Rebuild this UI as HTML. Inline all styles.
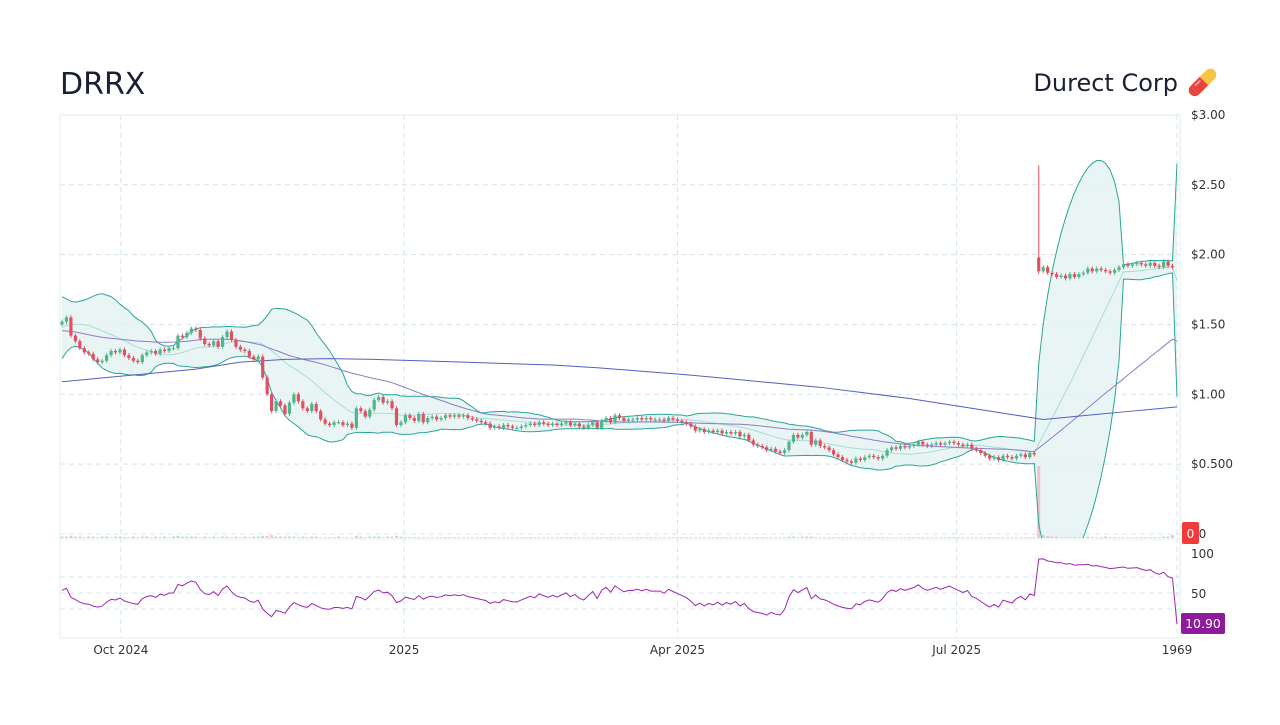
<!DOCTYPE html>
<html><head><meta charset="utf-8"><title>DRRX</title>
<style>
html,body{margin:0;padding:0;background:#fff;}
body{width:1280px;height:720px;overflow:hidden;font-family:"Liberation Sans","DejaVu Sans",sans-serif;}
svg text{font-family:"DejaVu Sans","Liberation Sans",sans-serif;}
</style></head>
<body>
<svg id="chart" width="1280" height="720" viewBox="0 0 1280 720" xmlns="http://www.w3.org/2000/svg">
  <text x="60" y="94" font-size="30" fill="#1c2033">DRRX</text>
  <text x="1178" y="91" font-size="24" fill="#1c2033" text-anchor="end">Durect Corp</text>
  <g transform="translate(1204,81) rotate(-45)">
    <rect x="-13" y="-6" width="13" height="12" fill="#e8423c"/>
    <path d="M-13,-6 A6,6 0 0 0 -13,6 Z" fill="#e8423c"/>
    <rect x="0" y="-6" width="9" height="12" fill="#f6c343"/>
    <path d="M9,-6 A6,6 0 0 1 9,6 Z" fill="#f6c343"/>
    <rect x="-10" y="-4" width="8" height="2" rx="1" fill="#ff9a94"/>
  </g>
  <g id="grid"></g>
  <defs><clipPath id="pclip"><rect x="60" y="115" width="1120" height="423"/></clipPath>
  <clipPath id="rclip"><rect x="60" y="540" width="1120" height="98"/></clipPath></defs>
  <g id="price" clip-path="url(#pclip)"></g>
  <g id="rsi" clip-path="url(#rclip)"></g>
  <g id="axes"></g>
</svg>
<script>
const warmup=[1.62,1.65,1.60,1.58,1.63,1.66,1.61,1.57,1.55,1.52,1.50,1.47,1.45,1.48,1.44,1.40,1.42,1.38,1.35,1.39,1.42,1.40,1.37,1.33,1.30,1.28,1.32,1.35,1.30,1.27,1.25,1.22,1.28,1.33,1.38,1.35,1.42,1.48,1.45,1.52,1.57,1.55,1.60,1.63,1.58,1.55,1.60,1.52,1.48,1.50];
const closes=[1.52,1.55,1.42,1.38,1.33,1.30,1.29,1.25,1.23,1.24,
1.28,1.31,1.30,1.32,1.28,1.26,1.24,1.23,1.28,1.30,
1.31,1.29,1.32,1.31,1.33,1.33,1.42,1.41,1.44,1.47,
1.46,1.40,1.36,1.35,1.38,1.34,1.41,1.45,1.39,1.34,
1.32,1.31,1.27,1.25,1.27,1.12,1.00,0.88,0.95,0.92,
0.86,0.94,1.00,0.95,0.90,0.88,0.93,0.88,0.82,0.79,
0.78,0.80,0.80,0.78,0.79,0.76,0.90,0.88,0.84,0.89,
0.96,0.98,0.94,0.95,0.90,0.78,0.80,0.85,0.83,0.81,
0.86,0.80,0.83,0.84,0.82,0.83,0.85,0.84,0.85,0.84,
0.85,0.83,0.82,0.81,0.80,0.79,0.76,0.77,0.76,0.78,
0.77,0.76,0.76,0.77,0.78,0.79,0.78,0.80,0.79,0.78,
0.79,0.78,0.79,0.80,0.78,0.79,0.77,0.76,0.78,0.80,
0.76,0.81,0.83,0.80,0.85,0.83,0.81,0.82,0.82,0.83,
0.82,0.83,0.82,0.82,0.82,0.81,0.83,0.82,0.81,0.80,
0.79,0.77,0.74,0.75,0.73,0.74,0.73,0.74,0.72,0.73,
0.72,0.73,0.70,0.71,0.67,0.64,0.63,0.62,0.60,0.61,
0.59,0.58,0.60,0.66,0.71,0.69,0.71,0.73,0.64,0.67,
0.63,0.62,0.60,0.57,0.55,0.53,0.52,0.51,0.54,0.53,
0.55,0.56,0.55,0.54,0.56,0.60,0.62,0.61,0.63,0.62,
0.63,0.64,0.66,0.64,0.63,0.64,0.65,0.64,0.65,0.66,
0.65,0.64,0.63,0.64,0.61,0.60,0.58,0.56,0.54,0.55,
0.53,0.56,0.55,0.54,0.56,0.57,0.55,0.58,0.57,1.88,
1.91,1.87,1.86,1.84,1.85,1.83,1.86,1.84,1.86,1.87,
1.90,1.88,1.90,1.89,1.88,1.87,1.89,1.91,1.93,1.92,
1.93,1.94,1.93,1.92,1.94,1.92,1.91,1.95,1.92,1.91,
0];
const specialBars=[{i:219,open:1.98,high:2.64,low:1.86}];
const volumes=[2,2,3,2,2,1,2,2,1,2,2,1,2,2,1,1,2,1,2,2,1,2,1,2,1,2,3,2,2,2,2,1,2,1,2,1,2,2,1,2,
1,2,1,2,2,3,3,4,2,2,2,2,2,1,2,1,2,2,1,1,1,1,2,1,1,1,3,2,1,2,2,2,1,2,2,3,2,1,1,1,
1,1,1,1,1,1,1,1,1,1,1,1,1,1,1,1,1,1,1,1,1,1,1,1,1,1,1,1,1,1,1,1,1,1,1,1,1,1,1,1,
1,1,1,1,1,1,1,1,1,1,1,1,1,1,1,1,1,1,1,1,1,1,1,1,1,1,1,1,1,1,1,1,1,1,1,1,1,1,1,1,
1,1,1,2,2,1,2,2,2,1,1,1,1,1,1,1,1,1,1,1,1,1,1,1,1,1,1,1,1,1,1,1,1,1,1,1,1,1,1,1,
1,1,1,1,1,1,1,1,1,1,1,1,1,1,1,1,1,1,1,100,4,3,2,2,1,1,1,1,1,1,2,1,1,1,2,1,1,1,1,1,
1,1,1,1,1,1,1,2,2,4,0];
const sma200Idx=[0,10,20,30,40,50,60,70,80,90,100,110,120,130,140,150,160,170,180,190,200,210,220,230,240,250];
const sma200Val=[1.09,1.12,1.15,1.18,1.23,1.25,1.255,1.25,1.24,1.23,1.22,1.21,1.19,1.165,1.14,1.11,1.08,1.05,1.01,0.97,0.92,0.87,0.82,0.85,0.88,0.91];
const priceTicks=[3.00,2.50,2.00,1.50,1.00,0.5,0];
const priceTickLabels=["$3.00","$2.50","$2.00","$1.50","$1.00","$0.500","$0"];
const rsiTicks=[100,50];
const dateTickIdx=[13.2,76.7,138,200.6,250];
const dateTickLabels=["Oct 2024","2025","Apr 2025","Jul 2025","1969"];

const NS="http://www.w3.org/2000/svg";
const X=i=>62+i*4.46;
const Y=p=>534-p*139.7;
const RY=v=>633-v*0.8;
function mk(tag,attrs,parent){const e=document.createElementNS(NS,tag);for(const k in attrs)e.setAttribute(k,attrs[k]);parent.appendChild(e);return e;}
const grid=document.getElementById('grid'),price=document.getElementById('price'),rsiG=document.getElementById('rsi'),axes=document.getElementById('axes');

priceTicks.forEach(p=>{const l=mk('line',{x1:60,x2:1180,y1:Y(p),y2:Y(p),stroke:'#d3e4ea','stroke-dasharray':'5,4','stroke-width':1},grid);

});
[70,50,30].forEach(v=>{const l=mk('line',{x1:60,x2:1180,y1:RY(v),y2:RY(v),stroke:'#cfe9f3','stroke-dasharray':'5,4','stroke-width':1},grid);

});
dateTickIdx.forEach(i=>{const l=mk('line',{x1:X(i),x2:X(i),y1:115,y2:638,stroke:'#d3e4ea','stroke-dasharray':'5,4','stroke-width':1},grid);

});

const all=warmup.concat(closes);const W=warmup.length;
function sma(n,k){let s=0,c=0;for(let j=Math.max(0,k-n+1);j<=k;j++){s+=all[j];c++;}return s/c;}
function sd(n,k,m){let s=0,c=0;for(let j=Math.max(0,k-n+1);j<=k;j++){s+=(all[j]-m)**2;c++;}return Math.sqrt(s/c);}
const up=[],lo=[],mid=[],s50=[];
for(let i=0;i<closes.length;i++){const k=i+W;const m=sma(20,k),d=sd(20,k,m);mid.push(m);up.push(m+2*d);lo.push(m-2*d);s50.push(sma(50,k));}
const pts=a=>a.map((v,i)=>X(i).toFixed(1)+','+Y(v).toFixed(1));
function openOf(i){let o=i>0?closes[i-1]:1.50;specialBars.forEach(s=>{if(s.i===i)o=s.open;});return o;}
const band=mk('polygon',{points:pts(up).concat(pts(lo).reverse()).join(' '),fill:'#e4f3f1',opacity:0.8},price);


volumes.forEach((v,i)=>{if(v<=0)return;const c=closes[i],o=openOf(i);const h=v*0.72;
const r=mk('rect',{x:X(i)-1.5,y:538-h,width:3,height:h,fill:(c>=o?'#a9dcc8':'#f0b8bf'),opacity:0.85},price);

});
const lineDefs=[[up,'#2aa596',1,'bollinger-upper'],[lo,'#2aa596',1,'bollinger-lower'],[mid,'#a6ddd5',1,'bollinger-middle'],[s50,'#8e7cc9',1,'sma-50']];
lineDefs.forEach(d=>{const l=mk('polyline',{points:pts(d[0]).join(' '),fill:'none',stroke:d[1],'stroke-width':d[2]},price);

});
const s200=mk('polyline',{points:sma200Idx.map((i,k)=>X(i)+','+Y(sma200Val[k])).join(' '),fill:'none',stroke:'#5361bd','stroke-width':1},price);


closes.forEach((c,i)=>{if(c<=0)return;let o=openOf(i);let hi=Math.max(o,c)+0.015,lw=Math.min(o,c)-0.015;
specialBars.forEach(s=>{if(s.i===i){hi=s.high;lw=s.low;}});
const col=c>=o?'#4fb58b':'#e2505f';
const w=mk('line',{x1:X(i),x2:X(i),y1:Y(hi),y2:Y(lw),stroke:col,'stroke-width':1},price);


const top=Y(Math.max(o,c)),bh=Math.max(1,Math.abs(Y(o)-Y(c)));
const b=mk('rect',{x:X(i)-1.6,y:top,width:3.2,height:bh,fill:col},price);

});
const rsi=[];let ag=0,al=0;
for(let k=1;k<all.length;k++){const ch=all[k]-all[k-1];const g=Math.max(ch,0),l=Math.max(-ch,0);
if(k<=14){ag+=g/14;al+=l/14;}else{ag=(ag*13+g)/14;al=(al*13+l)/14;}
if(k>=W)rsi.push(al===0?100:100-100/(1+ag/al));}
const rl=mk('polyline',{points:rsi.map((v,i)=>X(i).toFixed(1)+','+RY(v).toFixed(1)).join(' '),fill:'none',stroke:'#9c27b0','stroke-width':1},rsiG);


[[60,115,60,638],[60,115,1180,115],[1180,115,1180,638],[60,638,1180,638],[60,539,1180,539]].forEach(a=>{const l=mk('line',{x1:a[0],y1:a[1],x2:a[2],y2:a[3],stroke:'#e3ecef','stroke-width':1},axes);

});
priceTicks.forEach((p,k)=>{const t=mk('text',{x:1191,y:Y(p)+4,'font-size':12,fill:'#333'},axes);t.textContent=priceTickLabels[k];

});
rsiTicks.forEach(v=>{const t=mk('text',{x:1191,y:RY(v)+5,'font-size':12,fill:'#333'},axes);t.textContent=String(v);

});
dateTickIdx.forEach((i,k)=>{const t=mk('text',{x:X(i),y:654,'font-size':12,fill:'#333','text-anchor':'middle'},axes);t.textContent=dateTickLabels[k];

});
const vb=mk('rect',{x:1182,y:522,width:17,height:22,rx:2,fill:'#f23a3a'},axes);


const vt=mk('text',{x:1190.5,y:538,'font-size':12,fill:'#fff','text-anchor':'middle'},axes);vt.textContent='0';


const rb=mk('rect',{x:1181,y:613,width:44,height:21,rx:2,fill:'#8e1a9c'},axes);


const rt=mk('text',{x:1203,y:628,'font-size':12.5,fill:'#fff','text-anchor':'middle'},axes);rt.textContent=rsi[rsi.length-1].toFixed(2)==='NaN'?'10.90':'10.90';


</script>
</body></html>
